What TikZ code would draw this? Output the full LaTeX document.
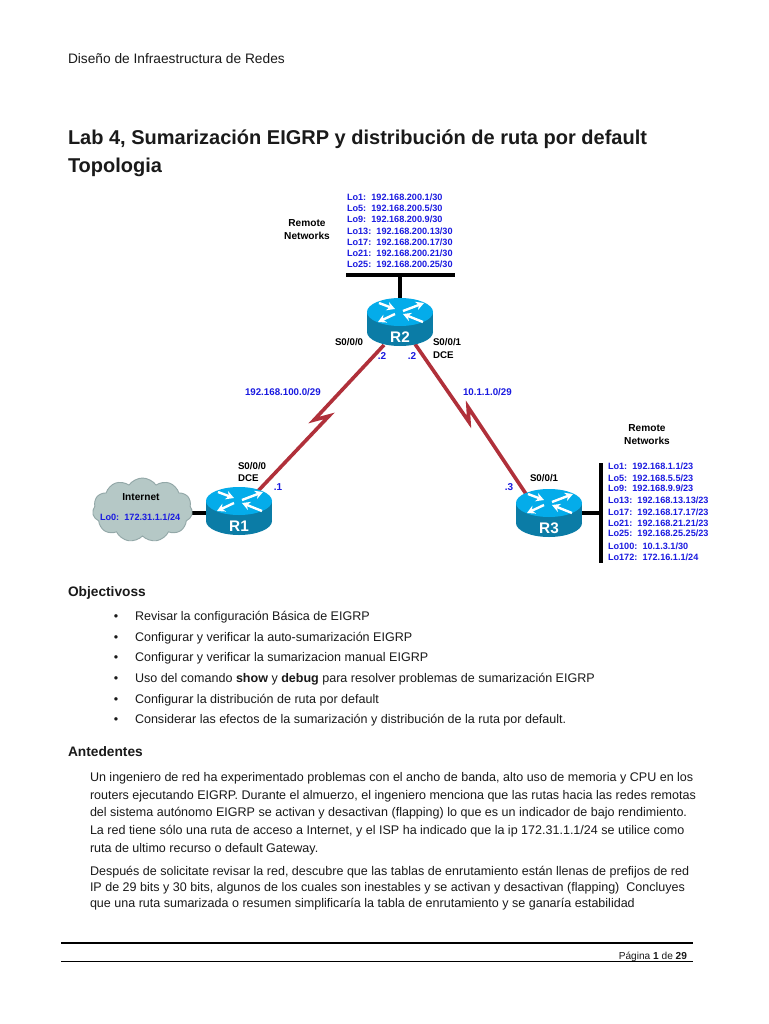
\documentclass[tikz,border=0pt]{standalone}
\usepackage{fontspec}
\setmainfont{Liberation Sans}
\usetikzlibrary{arrows.meta,shapes.symbols}
\definecolor{linkred}{HTML}{B0303A}
\definecolor{nettop}{HTML}{04ACEA}
\definecolor{netside}{HTML}{0B7CA6}
\definecolor{netblue}{HTML}{1A1AE0}
\definecolor{cloudfill}{HTML}{B5C8C6}
\definecolor{cloudline}{HTML}{93A8A8}
\definecolor{ink}{HTML}{1A1A1A}
\tikzset{
  x=0.75pt,y=-0.75pt,
  every node/.style={inner sep=0pt,outer sep=0pt},
  body/.style={anchor=base west,text=ink,font=\fontsize{9.4pt}{11pt}\selectfont},
  headerline/.style={anchor=base west,text=ink,font=\fontsize{10.3pt}{12pt}\selectfont},
  titletext/.style={anchor=base west,text=ink,font=\fontsize{15pt}{18pt}\selectfont\bfseries},
  headtext/.style={anchor=base west,text=ink,font=\fontsize{10.3pt}{12pt}\selectfont\bfseries},
  bulletmark/.style={anchor=base,text=ink,font=\fontsize{9.4pt}{11pt}\selectfont},
  netlabel/.style={anchor=base west,text=netblue,font=\fontsize{6.85pt}{8pt}\selectfont\bfseries},
  linklabel/.style={anchor=base west,text=netblue,font=\fontsize{7.3pt}{8pt}\selectfont\bfseries},
  blacklabel/.style={anchor=base west,text=black,font=\fontsize{7.3pt}{8pt}\selectfont\bfseries},
  centerlabel/.style={anchor=base,text=black,font=\fontsize{7.6pt}{8pt}\selectfont\bfseries},
  hostlabel/.style={anchor=base,text=netblue,font=\fontsize{7.5pt}{8pt}\selectfont\bfseries},
  footertext/.style={anchor=base east,text=ink,font=\fontsize{7.6pt}{9pt}\selectfont},
  routerbox/.style={minimum width=49.5pt,minimum height=34pt,shape=rectangle},
  routername/.style={anchor=center,text=white,font=\fontsize{11.5pt}{14pt}\selectfont\bfseries},
  serial/.style={draw=linkred,line width=2.7pt,line join=miter,miter limit=10},
  lan/.style={draw=black,line width=2.3pt},
  rarrow/.style={draw=white,line width=1.8pt,-{Stealth[length=6pt,width=6.5pt]}},
  netcloud/.style={shape=cloud,cloud puffs=11,cloud puff arc=110,aspect=1.55,draw=cloudline,line width=0.7pt,fill=cloudfill,minimum width=75pt,minimum height=48pt}
}
% name, x, y of centre of the top disc, label
\newcommand{\routerdraw}[4]{%
  \fill[netside] (#2,#3+20) ellipse [x radius=33,y radius=14];
  \fill[netside] (#2-33,#3) rectangle (#2+33,#3+20);
  \fill[nettop] (#2,#3) ellipse [x radius=33,y radius=14];
  \draw[rarrow] (#2+3,#3-1) -- (#2+24,#3-9);
  \draw[rarrow] (#2-5,#3+2) -- (#2-22,#3+10);
  \draw[rarrow] (#2-21,#3-9) -- (#2-5,#3-3);
  \draw[rarrow] (#2+23,#3+10) -- (#2+3,#3+2);
  \node[routername] (#1lab) at (#2,#3+25) {#4};
}
\begin{document}
\begin{tikzpicture}
\useasboundingbox (0,0) rectangle (768,1024);
\fill[white] (0,0) rectangle (768,1024);

% page text
\node[headerline] (hdr) at (68,64) {Diseño de Infraestructura de Redes};
\node[titletext] (ttl1) at (68,144) {Lab 4, Sumarización EIGRP y distribución de ruta por default};
\node[titletext] (ttl2) at (68,172) {Topologia};

% router anchors
\node[routerbox] (R2) at (400,321) {};
\node[routerbox] (R1) at (239,513) {};
\node[routerbox] (R3) at (549,513) {};

% connectors
\coordinate (e1) at (258,491);
\coordinate (k1a) at (329,416);
\coordinate (k1b) at (314,420);
\coordinate (e2) at (384,345);
\coordinate (e3) at (415,344);
\coordinate (k2b) at (469,422);
\coordinate (k2a) at (468,407);
\coordinate (e4) at (526,494);
\coordinate (lanR2a) at (346,275);
\coordinate (lanR2b) at (455,275);
\coordinate (lanR2m) at (400,275);
\coordinate (lanR3a) at (601,463);
\coordinate (lanR3b) at (601,563);
\coordinate (lanR3m) at (601,513);
\coordinate (cloudport) at (190,513);
\draw[serial] (e1) -- (k1a) -- (k1b) -- (e2);
\draw[serial] (e3) -- (k2b) -- (k2a) -- (e4);
\draw[lan] (lanR2a) -- (lanR2b);
\draw[lan] (lanR2m) -- (R2.north);
\draw[lan] (lanR3a) -- (lanR3b);
\draw[lan] (cloudport) -- (R1.west);
\draw[lan] (R3.east) -- (lanR3m);

% routers
\routerdraw{Rtwo}{400}{312}{R2}
\routerdraw{Rone}{239}{501}{R1}
\routerdraw{Rthree}{549}{503}{R3}

% cloud
\node[netcloud] (cloud) at (142.5,510) {};
\node[centerlabel] (inet) at (141,500) {Internet};
\node[netlabel] (lo0) at (100,520) {Lo0:~~172.31.1.1/24};

% R2 network list
\node[netlabel] (a1) at (347,200) {Lo1:~~192.168.200.1/30};
\node[netlabel] (a2) at (347,211) {Lo5:~~192.168.200.5/30};
\node[netlabel] (a3) at (347,222) {Lo9:~~192.168.200.9/30};
\node[netlabel] (a4) at (347,234) {Lo13:~~192.168.200.13/30};
\node[netlabel] (a5) at (347,245) {Lo17:~~192.168.200.17/30};
\node[netlabel] (a6) at (347,256) {Lo21:~~192.168.200.21/30};
\node[netlabel] (a7) at (347,267) {Lo25:~~192.168.200.25/30};
\node[centerlabel] (rn1) at (307,226) {Remote};
\node[centerlabel] (rn2) at (307,239) {Networks};

% R3 network list
\node[centerlabel] (rn3) at (647,431) {Remote};
\node[centerlabel] (rn4) at (647,444) {Networks};
\node[netlabel] (b1) at (608,469) {Lo1:~~192.168.1.1/23};
\node[netlabel] (b2) at (608,481) {Lo5:~~192.168.5.5/23};
\node[netlabel] (b3) at (608,491) {Lo9:~~192.168.9.9/23};
\node[netlabel] (b4) at (608,503) {Lo13:~~192.168.13.13/23};
\node[netlabel] (b5) at (608,515) {Lo17:~~192.168.17.17/23};
\node[netlabel] (b6) at (608,526) {Lo21:~~192.168.21.21/23};
\node[netlabel] (b7) at (608,536) {Lo25:~~192.168.25.25/23};
\node[netlabel] (b8) at (608,549) {Lo100:~~10.1.3.1/30};
\node[netlabel] (b9) at (608,560) {Lo172:~~172.16.1.1/24};

% interface labels
\node[blacklabel] (s1) at (335,345) {S0/0/0};
\node[blacklabel] (s2) at (433,345) {S0/0/1};
\node[blacklabel] (s3) at (433,358) {DCE};
\node[hostlabel] (h1) at (382,359) {.2};
\node[hostlabel] (h2) at (412,359) {.2};
\node[blacklabel] (s4) at (238,469) {S0/0/0};
\node[blacklabel] (s5) at (238,481) {DCE};
\node[hostlabel] (h3) at (278,490) {.1};
\node[blacklabel] (s6) at (530,481) {S0/0/1};
\node[hostlabel] (h4) at (509,490) {.3};
\node[linklabel] (n1) at (245,395) {192.168.100.0/29};
\node[linklabel] (n2) at (463,395) {10.1.1.0/29};

% objectives
\node[headtext] (obj) at (68,596) {Objectivoss};
\node[bulletmark] (m1) at (116,620) {•};
\node[bulletmark] (m2) at (116,641) {•};
\node[bulletmark] (m3) at (116,661) {•};
\node[bulletmark] (m4) at (116,682) {•};
\node[bulletmark] (m5) at (116,703) {•};
\node[bulletmark] (m6) at (116,723) {•};
\node[body] (o1) at (135,620) {Revisar la configuración Básica de EIGRP};
\node[body] (o2) at (135,641) {Configurar y verificar la auto-sumarización EIGRP};
\node[body] (o3) at (135,661) {Configurar y verificar la sumarizacion manual EIGRP};
\node[body] (o4) at (135,682) {Uso del comando \textbf{show} y \textbf{debug} para resolver problemas de sumarización EIGRP};
\node[body] (o5) at (135,703) {Configurar la distribución de ruta por default};
\node[body] (o6) at (135,723) {Considerar las efectos de la sumarización y distribución de la ruta por default.};

% background
\node[headtext] (ant) at (68,756) {Antedentes};
\node[body] (p1) at (90,781) {Un ingeniero de red ha experimentado problemas con el ancho de banda, alto uso de memoria y CPU en los};
\node[body] (p2) at (90,799) {routers ejecutando EIGRP. Durante el almuerzo, el ingeniero menciona que las rutas hacia las redes remotas};
\node[body] (p3) at (90,816) {del sistema autónomo EIGRP se activan y desactivan (flapping) lo que es un indicador de bajo rendimiento.};
\node[body] (p4) at (90,834) {La red tiene sólo una ruta de acceso a Internet, y el ISP ha indicado que la ip 172.31.1.1/24 se utilice como};
\node[body] (p5) at (90,852) {ruta de ultimo recurso o default Gateway.};
\node[body] (p6) at (90,875) {Después de solicitate revisar la red, descubre que las tablas de enrutamiento están llenas de prefijos de red};
\node[body] (p7) at (90,891) {IP de 29 bits y 30 bits, algunos de los cuales son inestables y se activan y desactivan (flapping)~~Concluyes};
\node[body] (p8) at (90,907) {que una ruta sumarizada o resumen simplificaría la tabla de enrutamiento y se ganaría estabilidad};

% footer
\coordinate (f1a) at (61,943);
\coordinate (f1b) at (693,943);
\coordinate (f2a) at (61,961);
\coordinate (f2b) at (693,961);
\draw[black,line width=2.2pt] (f1a) -- (f1b);
\draw[black,line width=0.7pt] (f2a) -- (f2b);
\node[footertext] (pg) at (687,959) {Página \textbf{1} de \textbf{29}};
\end{tikzpicture}
\end{document}
